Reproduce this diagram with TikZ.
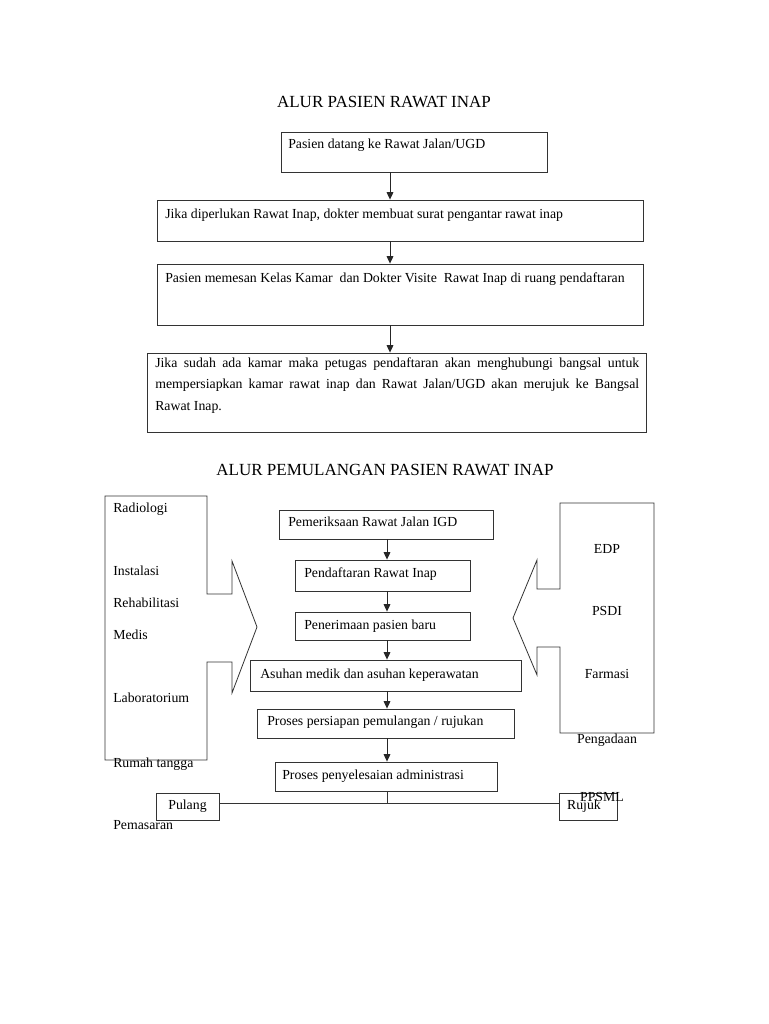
\documentclass[tikz,border=0pt]{standalone}
\usepackage{fontspec}
\setmainfont{Liberation Serif}
\usetikzlibrary{arrows.meta,calc}
\begin{document}
\begin{tikzpicture}[x=0.75pt,y=-0.75pt,
  box/.style={draw=black!80, line width=0.65pt, inner sep=0pt, rectangle},
  txt/.style={inner sep=0pt, anchor=mid west, font=\fontsize{10.35pt}{12pt}\selectfont},
  ctxt/.style={inner sep=0pt, anchor=mid, font=\fontsize{10.35pt}{12pt}\selectfont},
  ttl/.style={inner sep=0pt, anchor=mid, font=\fontsize{12.75pt}{15pt}\selectfont},
  arr/.style={draw=black!85, line width=0.65pt, -{Triangle[length=5.5pt,width=5pt]}},
  ln/.style={draw=black!80, line width=0.65pt},
  callout/.style={draw=black!80, line width=0.6pt, line join=miter}]
\useasboundingbox[fill=white] (0,0) rectangle (768,1024);

% ---------- top flow ----------
\node[ttl] (t1) at (384,104) {ALUR PASIEN RAWAT INAP};

\node[box, minimum width=199.5pt, minimum height=30pt] (b1) at (414,152) {};
\node[txt] (b1t) at (288,145) {Pasien datang ke Rawat Jalan/UGD};

\node[box, minimum width=364.5pt, minimum height=30.75pt] (b2) at (400,220.5) {};
\node[txt] (b2t) at (165,215) {Jika diperlukan Rawat Inap, dokter membuat surat pengantar rawat inap};

\node[box, minimum width=364.5pt, minimum height=45.75pt] (b3) at (400,294.5) {};
\node[txt] (b3t) at (165,279) {Pasien memesan Kelas Kamar\ \ dan Dokter Visite\ \ Rawat Inap di ruang pendaftaran};

\node[box, minimum width=374.25pt, minimum height=59.25pt] (b4) at (396.5,392.5) {};
\node[txt] (b4a) at (155,364) {\makebox[363pt][s]{Jika sudah ada kamar maka petugas pendaftaran akan menghubungi bangsal untuk}};
\node[txt] (b4b) at (155,385.5) {\makebox[363pt][s]{mempersiapkan kamar rawat inap dan Rawat Jalan/UGD akan merujuk ke Bangsal}};
\node[txt] (b4c) at (155,407) {Rawat Inap.};

\coordinate (ax) at (390,0);
\draw[arr] (b1.south -| ax) -- (b2.north -| ax);
\draw[arr] (b2.south -| ax) -- (b3.north -| ax);
\draw[arr] (b3.south -| ax) -- (b4.north -| ax);

% ---------- bottom flow ----------
\node[ttl] (t2) at (385,472) {ALUR PEMULANGAN PASIEN RAWAT INAP};

\node[box, minimum width=160.5pt, minimum height=21.75pt] (bA) at (386,524.5) {};
\node[txt] (bAt) at (288,523) {Pemeriksaan Rawat Jalan IGD};
\node[box, minimum width=131.25pt, minimum height=23.25pt] (bB) at (382.5,575.5) {};
\node[txt] (bBt) at (304,574) {Pendaftaran Rawat Inap};
\node[box, minimum width=131.25pt, minimum height=21pt] (bC) at (382.5,626) {};
\node[txt] (bCt) at (304,626) {Penerimaan pasien baru};
\node[box, minimum width=203.25pt, minimum height=23.25pt] (bD) at (385.5,675.5) {};
\node[txt] (bDt) at (260,675) {Asuhan medik dan asuhan keperawatan};
\node[box, minimum width=192.75pt, minimum height=21.75pt] (bE) at (385.5,723.5) {};
\node[txt] (bEt) at (267,722) {Proses persiapan pemulangan / rujukan};
\node[box, minimum width=166.5pt, minimum height=21.75pt] (bF) at (386,776.5) {};
\node[txt] (bFt) at (282,776) {Proses penyelesaian administrasi};

\coordinate (cx) at (387,0);
\draw[arr] (bA.south -| cx) -- (bB.north -| cx);
\draw[arr] (bB.south -| cx) -- (bC.north -| cx);
\draw[arr] (bC.south -| cx) -- (bD.north -| cx);
\draw[arr] (bD.south -| cx) -- (bE.north -| cx);
\draw[arr] (bE.south -| cx) -- (bF.north -| cx);

\node[box, minimum width=47.25pt, minimum height=20.25pt, font=\fontsize{10.35pt}{12pt}\selectfont] (pul) at (187.5,806.5) {Pulang};
\node[box, minimum width=43.5pt, minimum height=20.25pt] (ruj) at (588,806.5) {};
\node[ctxt] (rujt) at (584,806) {Rujuk};
\node[ctxt] (ppsml) at (602,798) {PPSML};

\coordinate (j) at (387,803);
\draw[ln] (bF.south -| cx) -- (j);
\draw[ln] (pul.east |- j) -- (ruj.west |- j);

% ---------- left callout ----------
\draw[callout] (105,496) -- (207,496) -- (207,594) -- (232,594) -- (232,561)
  -- (257,627) -- (232,693) -- (232,662) -- (207,662) -- (207,760) -- (105,760) -- cycle;
\node[txt] (l1) at (113,509) {Radiologi};
\node[txt] (l2) at (113,572) {Instalasi};
\node[txt] (l3) at (113,604) {Rehabilitasi};
\node[txt] (l4) at (113,636) {Medis};
\node[txt] (l5) at (113,699) {Laboratorium};
\node[txt] (l6) at (113,764) {Rumah tangga};
\node[txt] (l7) at (113,826) {Pemasaran};

% ---------- right callout ----------
\draw[callout] (560,503) -- (654,503) -- (654,733) -- (560,733) -- (560,647)
  -- (537,647) -- (537,675) -- (513,618) -- (537,560) -- (537,589) -- (560,589) -- cycle;
\node[ctxt] (r1) at (607,550) {EDP};
\node[ctxt] (r2) at (607,612) {PSDI};
\node[ctxt] (r3) at (607,675) {Farmasi};
\node[ctxt] (r4) at (607,740) {Pengadaan};
\end{tikzpicture}
\end{document}
